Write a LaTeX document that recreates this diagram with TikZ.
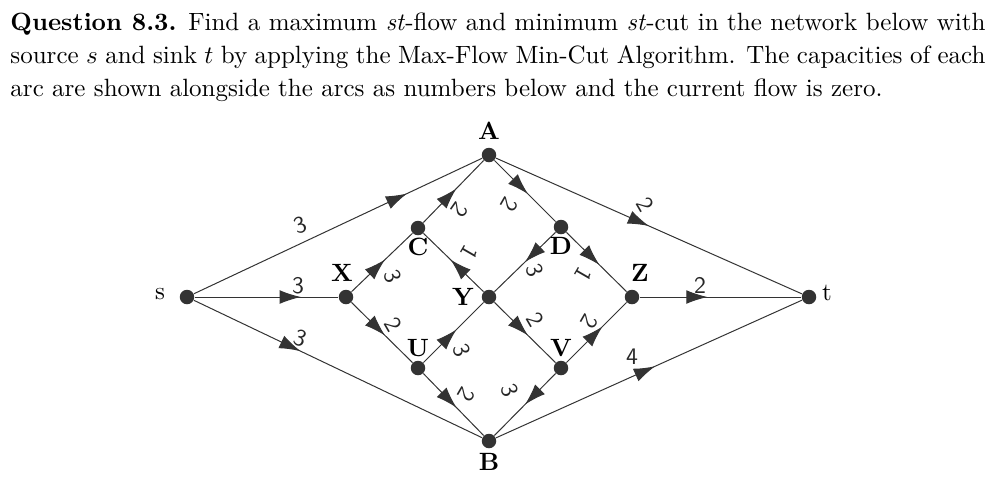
\documentclass[tikz,border=0pt]{standalone}
\usetikzlibrary{arrows.meta,decorations.markings}
\begin{document}
\begin{tikzpicture}[x=0.4pt,y=-0.4pt,
  vtx/.style={circle,fill=black!80,inner sep=0pt,minimum size=5.8pt},
  vlab/.style={font=\fontsize{10}{10}\selectfont\bfseries,inner sep=0pt},
  clab/.style={font=\sffamily\fontsize{9.5}{9.5}\selectfont,inner sep=0pt,text=black!85},
  edge/.style={draw=black!80,line width=0.4pt,postaction={decorate},
    decoration={markings,mark=at position #1 with {\arrow{Latex[length=8.5pt,width=5.5pt]}}}},
  edge/.default=0.55]
\useasboundingbox (0,0) rectangle (996,503);
\node[anchor=north west,text width=390pt,align=justify,inner sep=0pt,font=\fontsize{10}{13.2}\selectfont] (txt) at (10,12)
{\textbf{Question 8.3.} Find a maximum \textit{st}-flow and minimum \textit{st}-cut in the network below with source $s$ and sink $t$ by applying the Max-Flow Min-Cut Algorithm. The capacities of each arc are shown alongside the arcs as numbers below and the current flow is zero.};
\node[vtx] (s) at (187,297) {};
\node[vtx] (X) at (346,297) {};
\node[vtx] (C) at (418,228) {};
\node[vtx] (U) at (418,368) {};
\node[vtx] (A) at (489,155) {};
\node[vtx] (Y) at (489,297) {};
\node[vtx] (B) at (489,441) {};
\node[vtx] (D) at (561,227) {};
\node[vtx] (V) at (561,368) {};
\node[vtx] (Z) at (632,297) {};
\node[vtx] (t) at (809,297) {};
\draw[edge=0.74] (s) -- (A);
\draw[edge=0.74] (s) -- (X);
\draw[edge=0.37] (s) -- (B);
\draw[edge] (X) -- (C);
\draw[edge] (X) -- (U);
\draw[edge] (C) -- (A);
\draw[edge] (Y) -- (C);
\draw[edge] (U) -- (Y);
\draw[edge] (U) -- (B);
\draw[edge] (A) -- (D);
\draw[edge=0.5] (D) -- (Y);
\draw[edge] (D) -- (Z);
\draw[edge] (Y) -- (V);
\draw[edge=0.6] (V) -- (Z);
\draw[edge=0.5] (V) -- (B);
\draw[edge=0.5] (A) -- (t);
\draw[edge=0.42] (Z) -- (t);
\draw[edge=0.52] (B) -- (t);
\node[vlab] (lA) at (489,131) {A};
\node[vlab] (lC) at (418,247) {C};
\node[vlab] (lX) at (342,273) {X};
\node[vlab] (lY) at (463,297) {Y};
\node[vlab] (lU) at (418,348) {U};
\node[vlab] (lB) at (489,462) {B};
\node[vlab] (lD) at (561,246) {D};
\node[vlab] (lV) at (561,348) {V};
\node[vlab] (lZ) at (640,273) {Z};
\node[vlab,font=\fontsize{10}{10}\selectfont] (ls) at (160,294) {s};
\node[vlab,font=\fontsize{10}{10}\selectfont] (lt) at (827,293) {t};
\node[clab,rotate=20] (c1) at (300,225) {3};
\node[clab] (c2) at (298,286) {3};
\node[clab,rotate=-20] (c3) at (300,338) {3};
\node[clab,rotate=-70] (c4) at (393,276) {3};
\node[clab,rotate=-60] (c5) at (393,325) {2};
\node[clab,rotate=-125] (c6) at (460,210) {2};
\node[clab,rotate=-120] (c7) at (470,253) {1};
\node[clab,rotate=-70] (c8) at (462,350) {3};
\node[clab,rotate=-120] (c9) at (467,395) {2};
\node[clab,rotate=-120] (c10) at (510,205) {2};
\node[clab,rotate=-70] (c11) at (535,270) {3};
\node[clab,rotate=-120] (c12) at (584,275) {1};
\node[clab,rotate=-60] (c13) at (535,320) {2};
\node[clab,rotate=-120] (c14) at (590,322) {2};
\node[clab,rotate=-70] (c15) at (510,390) {3};
\node[clab,rotate=-60] (c16) at (645,205) {2};
\node[clab] (c17) at (700,285) {2};
\node[clab] (c18) at (632,357) {4};
\end{tikzpicture}
\end{document}
